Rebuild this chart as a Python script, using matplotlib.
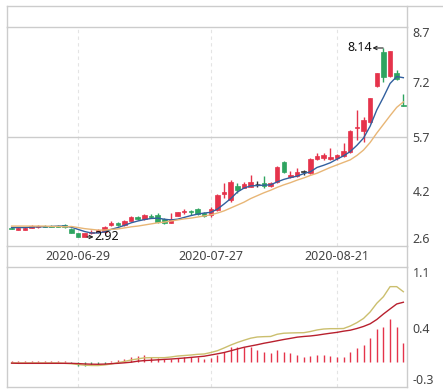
import matplotlib
matplotlib.use("Agg")
import matplotlib.pyplot as plt
from matplotlib.lines import Line2D
import numpy as np
import pandas as pd

plt.rcParams['font.family'] = ['Noto Sans', 'DejaVu Sans']

# ---------------- data ----------------
dates = [d.strftime('%Y-%m-%d') for d in pd.bdate_range('2020-06-11', '2020-09-04')
         if d.strftime('%Y-%m-%d') not in ('2020-06-25', '2020-06-26')]
shown_dates = ['2020-06-29', '2020-07-27', '2020-08-21']

opens = [3.18, 3.11, 3.11, 3.18, 3.20, 3.23, 3.23, 3.23, 3.24, 3.14,
         3.03, 2.93, 3.03, 3.06, 3.06, 3.24, 3.31, 3.24, 3.36, 3.48,
         3.41, 3.50, 3.53, 3.41, 3.31, 3.50, 3.61, 3.63, 3.68, 3.59,
         3.53, 3.67, 4.12, 3.94, 4.34, 4.26, 4.31, 4.38, 4.40, 4.33,
         4.43, 5.00, 4.57, 4.59, 4.72, 4.68, 5.08, 5.09, 5.07, 5.09,
         5.16, 5.28, 5.92, 5.86, 6.10, 7.09, 8.04, 7.37, 7.46, 6.55]
closes = [3.15, 3.18, 3.18, 3.22, 3.22, 3.20, 3.20, 3.20, 3.20, 3.03,
          2.93, 3.02, 3.07, 3.11, 3.20, 3.31, 3.24, 3.37, 3.48, 3.41,
          3.53, 3.46, 3.34, 3.30, 3.41, 3.60, 3.63, 3.61, 3.55, 3.50,
          3.68, 4.08, 4.15, 4.43, 4.22, 4.38, 4.45, 4.38, 4.34, 4.42,
          4.86, 4.72, 4.63, 4.71, 4.72, 5.07, 5.16, 5.18, 5.12, 5.18,
          5.30, 5.85, 5.97, 6.15, 6.75, 7.44, 7.33, 8.06, 7.28, 6.54]
highs = [3.20, 3.20, 3.19, 3.25, 3.26, 3.25, 3.24, 3.24, 3.28, 3.17,
         3.04, 3.03, 3.11, 3.14, 3.22, 3.36, 3.33, 3.39, 3.50, 3.51,
         3.55, 3.55, 3.57, 3.43, 3.57, 3.62, 3.68, 3.67, 3.71, 3.61,
         3.76, 4.11, 4.40, 4.49, 4.40, 4.45, 4.63, 4.47, 4.59, 4.45,
         4.88, 5.03, 4.74, 4.82, 4.76, 5.10, 5.23, 5.25, 5.37, 5.21,
         5.51, 5.88, 6.43, 6.24, 6.77, 7.46, 8.14, 8.07, 7.53, 6.87]
lows = [3.13, 3.10, 3.10, 3.17, 3.17, 3.19, 3.19, 3.19, 3.17, 3.02,
        2.93, 2.92, 3.00, 3.03, 3.04, 3.22, 3.22, 3.22, 3.35, 3.39,
        3.39, 3.44, 3.30, 3.28, 3.31, 3.49, 3.55, 3.53, 3.53, 3.47,
        3.48, 3.64, 3.99, 3.89, 4.13, 4.26, 4.31, 4.31, 4.26, 4.31,
        4.41, 4.69, 4.56, 4.57, 4.63, 4.66, 5.05, 5.05, 5.05, 5.05,
        5.14, 5.25, 5.60, 5.55, 6.08, 7.05, 7.21, 7.35, 7.26, 6.54]

ma5 = [3.18, 3.18, 3.18, 3.19, 3.20, 3.20, 3.21, 3.22, 3.22, 3.19,
       3.13, 3.07, 3.03, 3.03, 3.06, 3.13, 3.18, 3.24, 3.31, 3.36,
       3.40, 3.43, 3.44, 3.41, 3.39, 3.41, 3.46, 3.51, 3.55, 3.58,
       3.60, 3.69, 3.83, 3.98, 4.16, 4.27, 4.33, 4.34, 4.35, 4.36,
       4.44, 4.51, 4.56, 4.60, 4.67, 4.72, 4.84, 4.90, 4.97, 5.07,
       5.16, 5.28, 5.45, 5.65, 5.98, 6.43, 6.78, 7.16, 7.35, 7.32]
ma10 = [3.22, 3.22, 3.22, 3.22, 3.22, 3.22, 3.21, 3.21, 3.20, 3.21,
        3.18, 3.15, 3.13, 3.11, 3.11, 3.13, 3.14, 3.17, 3.20, 3.22,
        3.25, 3.28, 3.31, 3.33, 3.36, 3.39, 3.42, 3.44, 3.47, 3.50,
        3.53, 3.58, 3.64, 3.72, 3.80, 3.88, 3.98, 4.06, 4.14, 4.21,
        4.29, 4.36, 4.42, 4.49, 4.55, 4.62, 4.68, 4.76, 4.84, 4.91,
        4.98, 5.05, 5.17, 5.32, 5.53, 5.79, 6.03, 6.27, 6.50, 6.65]

dif = [-0.008, -0.008, -0.008, -0.008, -0.008, -0.008, -0.008, -0.008, -0.012, -0.017,
       -0.026, -0.034, -0.037, -0.038, -0.031, -0.020, -0.005, 0.010, 0.027, 0.040,
       0.052, 0.054, 0.054, 0.054, 0.062, 0.073, 0.079, 0.085, 0.093, 0.097,
       0.114, 0.135, 0.167, 0.201, 0.231, 0.257, 0.281, 0.295, 0.299, 0.301,
       0.327, 0.339, 0.342, 0.344, 0.345, 0.359, 0.377, 0.388, 0.392, 0.392,
       0.394, 0.423, 0.462, 0.511, 0.587, 0.688, 0.765, 0.882, 0.882, 0.823]
dea = [-0.010, -0.012, -0.012, -0.012, -0.012, -0.012, -0.012, -0.012, -0.012, -0.012,
       -0.015, -0.019, -0.022, -0.023, -0.021, -0.016, -0.012, -0.006, 0.001, 0.013,
       0.020, 0.024, 0.029, 0.034, 0.038, 0.044, 0.050, 0.057, 0.064, 0.071,
       0.085, 0.099, 0.114, 0.134, 0.155, 0.175, 0.190, 0.205, 0.222, 0.236,
       0.251, 0.266, 0.279, 0.293, 0.301, 0.307, 0.316, 0.328, 0.339, 0.349,
       0.363, 0.374, 0.394, 0.418, 0.449, 0.499, 0.563, 0.622, 0.680, 0.700]
macd_hist = [0.02, 0.02, 0.02, 0.02, 0.02, 0.02, 0.02, 0.02, 0.02, -0.01,
             -0.043, -0.043, -0.031, -0.02, -0.015, 0.01, 0.027, 0.035, 0.065, 0.073,
             0.08, 0.06, 0.05, 0.042, 0.042, 0.047, 0.062, 0.065, 0.062, 0.035,
             0.054, 0.09, 0.124, 0.175, 0.175, 0.175, 0.182, 0.143, 0.124, 0.105,
             0.143, 0.124, 0.105, 0.085, 0.058, 0.077, 0.089, 0.089, 0.073, 0.058,
             0.058, 0.117, 0.163, 0.202, 0.28, 0.385, 0.415, 0.501, 0.408, 0.222]

price_ticks = [8.72, 7.20, 5.68, 4.19, 2.67]
price_labels = ['8.7', '7.2', '5.7', '4.2', '2.6']
macd_ticks = [1.111, 0.4, -0.288]
macd_labels = ['1.1', '0.4', '-0.3']

# ---------------- style ----------------
RED = '#e5334b'
GREEN = '#2ea460'
DOJI = '#333333'
MA5_C = '#32609e'
MA10_C = '#e8b676'
DIF_C = '#cbbf6e'
DEA_C = '#b8202e'
BORDER = '#cccccc'
VGRID = '#e4e4e4'
TXT = '#444444'

W, H = 443, 389
fig = plt.figure(figsize=(W / 100, H / 100), dpi=100)

def fx(px):
    return px / W

def fy(py):
    return 1 - py / H

ax = fig.add_axes([fx(7), fy(246), fx(407) - fx(7), fy(27) - fy(246)])
ax2 = fig.add_axes([fx(7), fy(387), fx(407) - fx(7), fy(267) - fy(387)])

n = len(closes)
x = np.arange(n)
xlim = (-0.69, n - 0.45)

# candles
body_w = 0.68
for i in x:
    o, c, h, l = opens[i], closes[i], highs[i], lows[i]
    if c > o:
        col = RED
    elif c < o:
        col = GREEN
    else:
        col = DOJI
    ax.vlines(i, l, h, color=col, lw=1.0, zorder=3)
    bot = min(o, c)
    hgt = max(abs(c - o), 0.012)
    ax.bar(i, hgt, bottom=bot, width=body_w, color=col, edgecolor=col, lw=0.5, zorder=4)

ax.plot(x, ma5, color=MA5_C, lw=1.0, zorder=5)
ax.plot(x, ma10, color=MA10_C, lw=1.0, zorder=5)

# extreme markers
imax = int(np.argmax(highs))
imin = int(np.argmin(lows))
ax.annotate('', xy=(imax - 1.65, highs[imax]), xytext=(imax - 0.05, highs[imax]),
            arrowprops=dict(arrowstyle='->', color='#222222', lw=0.8,
                            shrinkA=0, shrinkB=0, mutation_scale=6), zorder=6)
ax.text(imax - 1.75, highs[imax], f'{highs[imax]:.2f}', ha='right', va='center',
        fontsize=9, color='#111111', zorder=6)
ax.annotate('', xy=(imin + 1.35, lows[imin]), xytext=(imin + 0.35, lows[imin]),
            arrowprops=dict(arrowstyle='->', color='#222222', lw=0.8,
                            shrinkA=0, shrinkB=0, mutation_scale=6), zorder=6)
ax.text(imin + 1.4, lows[imin], f'{lows[imin]:.2f}', ha='left', va='center',
        fontsize=9, color='#111111', zorder=6)

ax.set_xlim(*xlim)
ax.set_ylim(price_ticks[-1], price_ticks[0])
ax.axhline(price_ticks[2], color=BORDER, lw=1.0, zorder=1)

tick_idx = [dates.index(d) for d in shown_dates]
for t in tick_idx:
    ax.axvline(t, color=VGRID, lw=0.8, ls=(0, (3, 3)), zorder=0)
    ax2.axvline(t, color=VGRID, lw=0.8, ls=(0, (3, 3)), zorder=0)

ax.set_xticks(tick_idx)
ax.set_xticklabels(shown_dates, fontsize=9, color=TXT)
ax.tick_params(axis='x', length=0, pad=3)

ax.yaxis.tick_right()
ax.set_yticks(price_ticks)
ax.set_yticklabels(price_labels, fontsize=9, color=TXT)
ax.tick_params(axis='y', length=0, pad=4)
ylabs = ax.get_yticklabels()
ylabs[0].set_va('top')
ylabs[-1].set_va('bottom')

for sp in ax.spines.values():
    sp.set_color(BORDER)
    sp.set_linewidth(1.0)

# MACD panel
hist_cols = [RED if v >= 0 else GREEN for v in macd_hist]
ax2.vlines(x, 0, macd_hist, colors=hist_cols, lw=1.0, zorder=3)
ax2.plot(x, dif, color=DIF_C, lw=1.0, zorder=4)
ax2.plot(x, dea, color=DEA_C, lw=1.0, zorder=4)
ax2.set_xlim(*xlim)
ax2.set_ylim(macd_ticks[-1], macd_ticks[0])
ax2.set_xticks([])
ax2.yaxis.tick_right()
ax2.set_yticks(macd_ticks)
ax2.set_yticklabels(macd_labels, fontsize=9, color=TXT)
ax2.tick_params(axis='y', length=0, pad=4)
ylabs2 = ax2.get_yticklabels()
ylabs2[0].set_va('top')
ylabs2[-1].set_va('bottom')
for sp in ax2.spines.values():
    sp.set_color(BORDER)
    sp.set_linewidth(1.0)

# outer frame pieces (top band and date band)
def fline(x0, y0, x1, y1):
    fig.add_artist(Line2D([fx(x0), fx(x1)], [fy(y0), fy(y1)], color=BORDER, lw=1.0))

fline(7, 6, 443, 6)
fline(7, 6, 7, 27)
fline(407, 6, 407, 27)
fline(7, 246, 7, 267)
fline(407, 246, 407, 267)

fig.savefig('out.png', dpi=100)
